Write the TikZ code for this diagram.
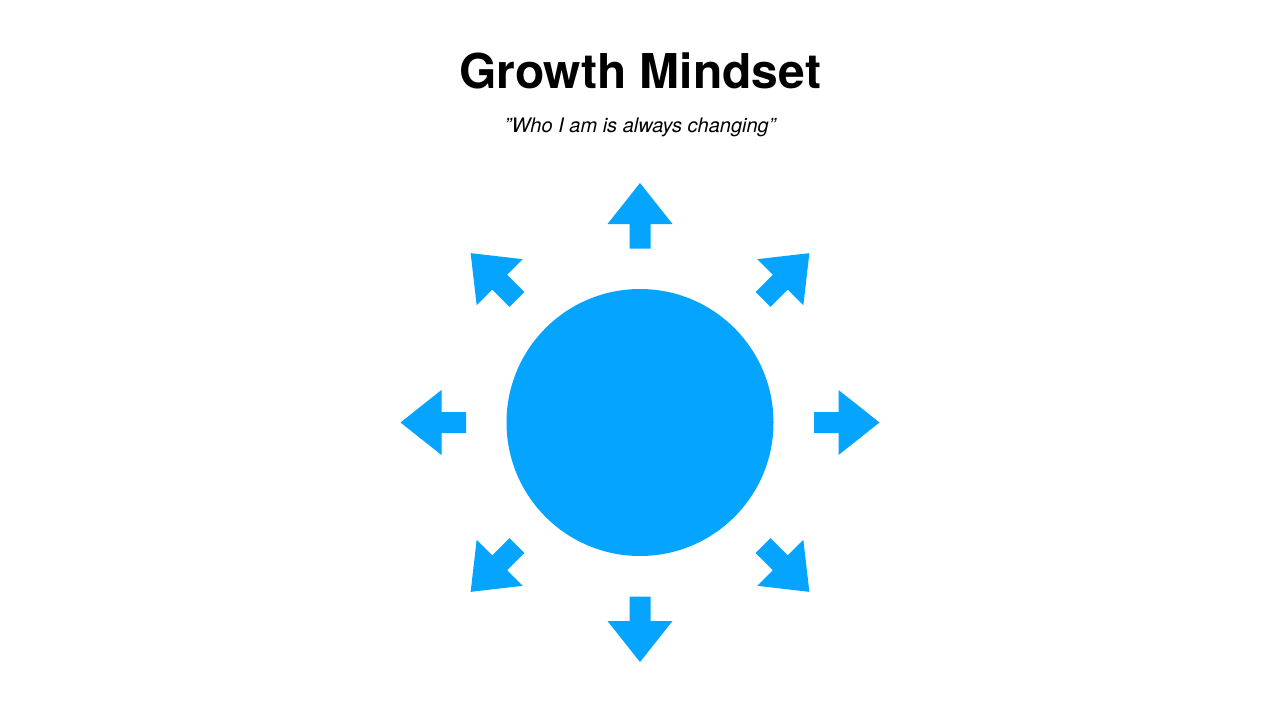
\documentclass[tikz,border=0pt]{standalone}
\usepackage{fontspec}
\setmainfont{TeX Gyre Heros}
\usepackage{xcolor}
\definecolor{skyblue}{RGB}{4,164,255}
\usepackage{tikz}

\tikzset{
    title/.style={font=\bfseries\fontsize{24}{28}\selectfont,anchor=base},
    motto/.style={font=\itshape\fontsize{10}{12}\selectfont,anchor=base},
    pics/blockarrow/.style={code={
        \fill[skyblue] (174,-10.5) -- (198.5,-10.5) -- (198.5,-32.5) -- (239.5,0)
            -- (198.5,32.5) -- (198.5,10.5) -- (174,10.5) -- cycle;
    }}
}

\begin{document}
\begin{tikzpicture}[x=0.5pt,y=0.5pt]
\useasboundingbox[fill=white] (0,0) rectangle (1280,720);

    \node[title] (heading) at (640,632) {Growth Mindset};
    \node[motto] (quote) at (640,588) {\symbol{34}Who I am is always changing\symbol{34}};

    \coordinate (c) at (640,297.5);
    \fill[skyblue] (c) circle (133.5);

    \pic[rotate=0]   at (c) {blockarrow};
    \pic[rotate=45]  at (c) {blockarrow};
    \pic[rotate=90]  at (c) {blockarrow};
    \pic[rotate=135] at (c) {blockarrow};
    \pic[rotate=180] at (c) {blockarrow};
    \pic[rotate=225] at (c) {blockarrow};
    \pic[rotate=270] at (c) {blockarrow};
    \pic[rotate=315] at (c) {blockarrow};

\end{tikzpicture}
\end{document}
